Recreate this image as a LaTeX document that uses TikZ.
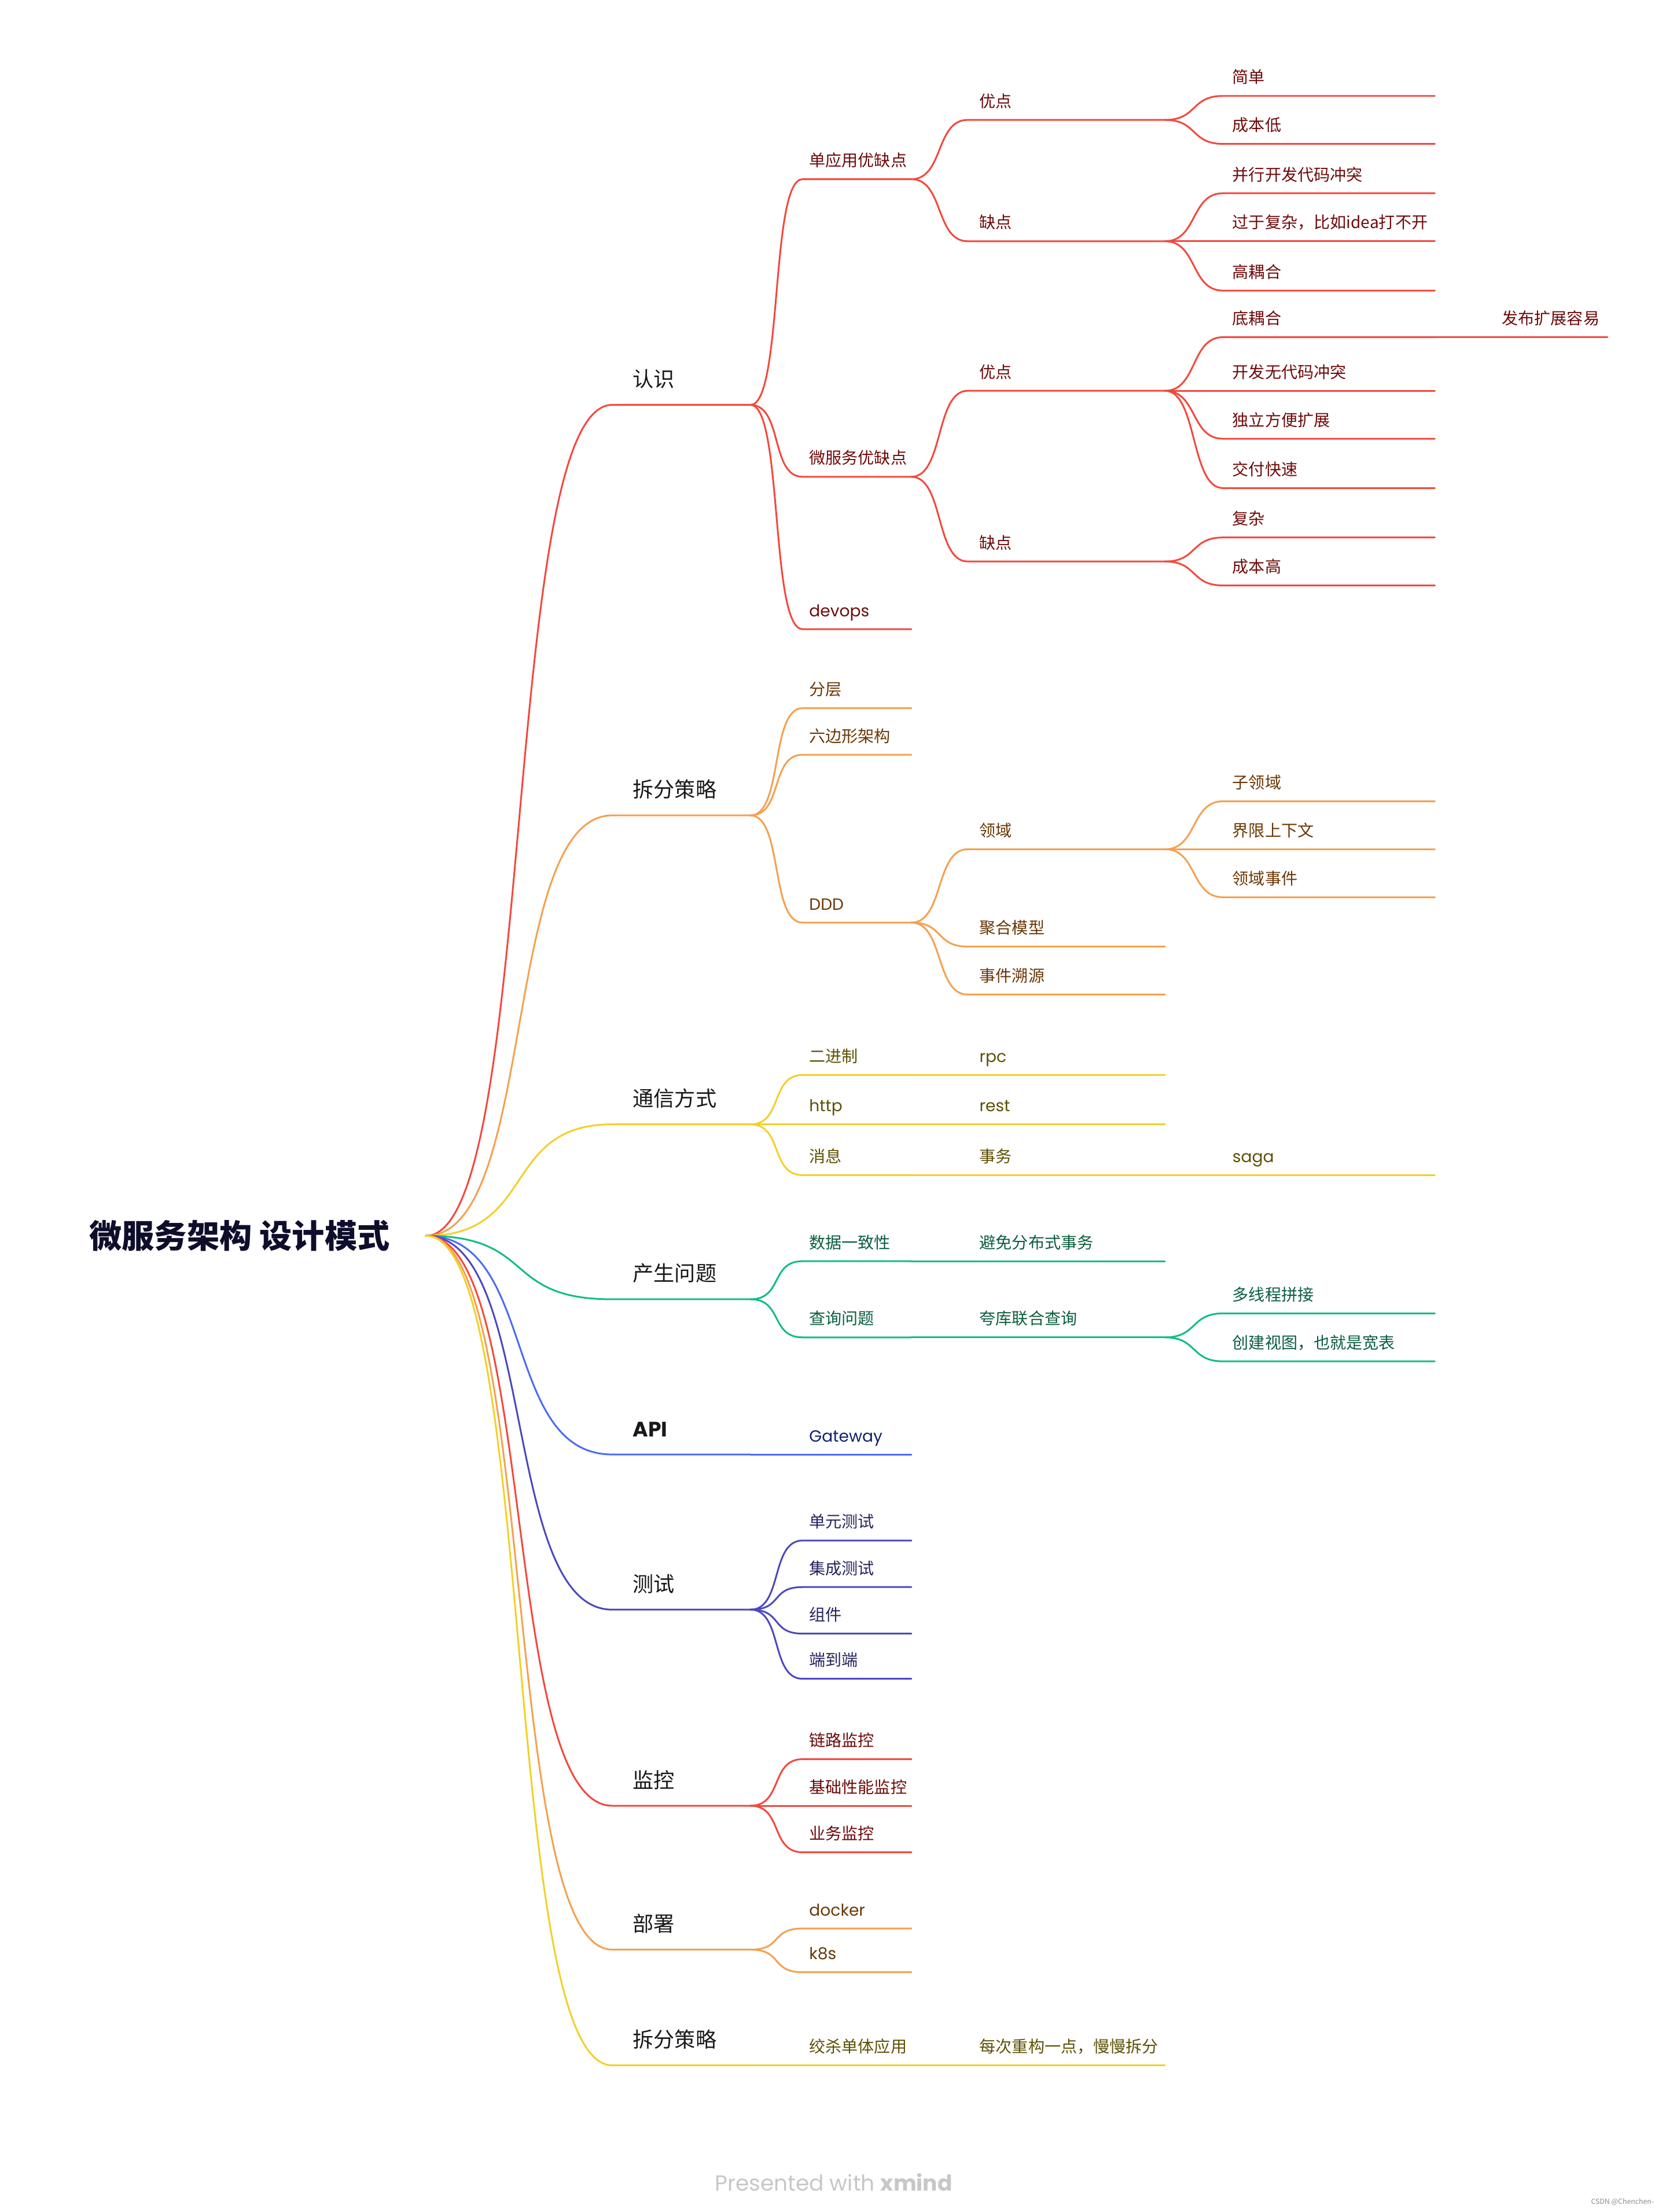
\documentclass[tikz,border=0pt]{standalone}
\usepackage{fontspec}
\setmainfont{Noto Sans CJK SC}
\newfontfamily\poppins{Poppins}

\definecolor{lnRed}{HTML}{F4473D}
\definecolor{lnOrange}{HTML}{F5A04F}
\definecolor{lnYellow}{HTML}{F2D027}
\definecolor{lnGreen}{HTML}{10BE7F}
\definecolor{lnBlue}{HTML}{4A6BF6}
\definecolor{lnIndigo}{HTML}{4B48BF}
\definecolor{txRed}{HTML}{6E0A0A}
\definecolor{txOrange}{HTML}{6A3806}
\definecolor{txYellow}{HTML}{5E5004}
\definecolor{txGreen}{HTML}{0B5E3E}
\definecolor{txBlue}{HTML}{10226E}
\definecolor{txIndigo}{HTML}{26245F}
\definecolor{txRoot}{HTML}{0E0E2C}

\tikzset{
  link/.style={to path={.. controls +(#1,0) and +(-#1,0) .. (\tikztotarget)}},
  link/.default=23,
  topic/.style={anchor=south west, align=left, text depth=0pt, inner ysep=5.8pt,
    font=\fontsize{8}{10}\selectfont},
  lv1/.style={topic, inner xsep=0.34cm, inner ysep=8.4pt, text width=1.68cm,
    text=black!90, font=\fontsize{10.3}{12}\selectfont},
  lv2/.style={topic, inner xsep=0.1cm, text width=1.65cm},
  lv3/.style={topic, inner xsep=0.19cm, text width=3.0cm},
  lv4/.style={topic, inner xsep=0.15cm, text width=3.33cm},
  lv5/.style={topic, inner xsep=0.15cm, text width=1.66cm},
  root/.style={anchor=east, inner xsep=0.61cm, text=txRoot,
    font=\fontsize{16}{19}\selectfont\bfseries},
}

\begin{document}
\begin{tikzpicture}[x=0.02437cm, y=-0.02437cm, line width=0.85pt, line cap=round]
\fill[white] (0,0) rectangle (1181,1568);
\useasboundingbox (0,0) rectangle (1181,1568);

\node[root] (root) at (302,876) {微服务架构 设计模式};

% 认识
\begin{scope}[color=lnRed, every node/.append style={text=txRed}]
\node[lv1] (rz) at (434,287) {认识};
\node[lv2] (dyy) at (569,127) {单应用优缺点};
\node[lv3] (dyyY) at (686,85) {优点};
\node[lv4] (jd) at (867,68) {简单};
\node[lv4] (cbd) at (867,102) {成本低};
\node[lv3] (dyyQ) at (686,171) {缺点};
\node[lv4] (bx) at (867,137) {并行开发代码冲突};
\node[lv4] (gfz) at (867,171) {过于复杂，比如idea打不开};
\node[lv4] (gou) at (867,206) {高耦合};
\node[lv2] (wfw) at (569,338) {微服务优缺点};
\node[lv3] (wfwY) at (686,277) {优点};
\node[lv4] (dou) at (867,239) {底耦合};
\node[lv5] (fb) at (1058,239) {发布扩展容易};
\node[lv4] (kf) at (867,277) {开发无代码冲突};
\node[lv4] (dl) at (867,311) {独立方便扩展};
\node[lv4] (jf) at (867,346) {交付快速};
\node[lv3] (wfwQ) at (686,398) {缺点};
\node[lv4] (fz) at (867,381) {复杂};
\node[lv4] (cbg) at (867,415) {成本高};
\node[lv2] (dev) at (569,446) {\poppins devops};
\draw (root.east) to[link=79] (rz.south west) -- (rz.south east);
\draw (rz.south east) to[link] (dyy.south west) -- (dyy.south east);
\draw (dyy.south east) to[link] (dyyY.south west) -- (dyyY.south east);
\draw (dyyY.south east) to[link] (jd.south west) -- (jd.south east);
\draw (dyyY.south east) to[link] (cbd.south west) -- (cbd.south east);
\draw (dyy.south east) to[link] (dyyQ.south west) -- (dyyQ.south east);
\draw (dyyQ.south east) to[link] (bx.south west) -- (bx.south east);
\draw (dyyQ.south east) -- (gfz.south west) -- (gfz.south east);
\draw (dyyQ.south east) to[link] (gou.south west) -- (gou.south east);
\draw (rz.south east) to[link] (wfw.south west) -- (wfw.south east);
\draw (wfw.south east) to[link] (wfwY.south west) -- (wfwY.south east);
\draw (wfwY.south east) to[link] (dou.south west) -- (dou.south east);
\draw (dou.south east) -- (fb.south west) -- (fb.south east);
\draw (wfwY.south east) -- (kf.south west) -- (kf.south east);
\draw (wfwY.south east) to[link] (dl.south west) -- (dl.south east);
\draw (wfwY.south east) to[link] (jf.south west) -- (jf.south east);
\draw (wfw.south east) to[link] (wfwQ.south west) -- (wfwQ.south east);
\draw (wfwQ.south east) to[link] (fz.south west) -- (fz.south east);
\draw (wfwQ.south east) to[link] (cbg.south west) -- (cbg.south east);
\draw (rz.south east) to[link] (dev.south west) -- (dev.south east);
\end{scope}

% 拆分策略
\begin{scope}[color=lnOrange, every node/.append style={text=txOrange}]
\node[lv1] (cf) at (434,578) {拆分策略};
\node[lv2] (fc) at (569,502) {分层};
\node[lv2] (lbx) at (569,535) {六边形架构};
\node[lv2] (ddd) at (569,654) {\poppins DDD};
\node[lv3] (ly) at (686,602) {领域};
\node[lv4] (zly) at (867,568) {子领域};
\node[lv4] (jx) at (867,602) {界限上下文};
\node[lv4] (lysj) at (867,636) {领域事件};
\node[lv3] (jh) at (686,671) {聚合模型};
\node[lv3] (sy) at (686,705) {事件溯源};
\draw (root.east) to[link=79] (cf.south west) -- (cf.south east);
\draw (cf.south east) to[link] (fc.south west) -- (fc.south east);
\draw (cf.south east) to[link] (lbx.south west) -- (lbx.south east);
\draw (cf.south east) to[link] (ddd.south west) -- (ddd.south east);
\draw (ddd.south east) to[link] (ly.south west) -- (ly.south east);
\draw (ly.south east) to[link] (zly.south west) -- (zly.south east);
\draw (ly.south east) -- (jx.south west) -- (jx.south east);
\draw (ly.south east) to[link] (lysj.south west) -- (lysj.south east);
\draw (ddd.south east) to[link] (jh.south west) -- (jh.south east);
\draw (ddd.south east) to[link] (sy.south west) -- (sy.south east);
\end{scope}

% 通信方式
\begin{scope}[color=lnYellow, every node/.append style={text=txYellow}]
\node[lv1] (tx) at (434,797) {通信方式};
\node[lv2] (ejz) at (569,762) {二进制};
\node[lv3] (rpc) at (686,762) {\poppins rpc};
\node[lv2] (http) at (569,797) {\poppins http};
\node[lv3] (rest) at (686,797) {\poppins rest};
\node[lv2] (xx) at (569,833) {消息};
\node[lv3] (sw) at (686,833) {事务};
\node[lv4] (saga) at (867,833) {\poppins saga};
\draw (root.east) to[link=79] (tx.south west) -- (tx.south east);
\draw (tx.south east) to[link] (ejz.south west) -- (ejz.south east);
\draw (ejz.south east) -- (rpc.south west) -- (rpc.south east);
\draw (tx.south east) -- (http.south west) -- (http.south east);
\draw (http.south east) -- (rest.south west) -- (rest.south east);
\draw (tx.south east) to[link] (xx.south west) -- (xx.south east);
\draw (xx.south east) -- (sw.south west) -- (sw.south east);
\draw (sw.south east) -- (saga.south west) -- (saga.south east);
\end{scope}

% 产生问题
\begin{scope}[color=lnGreen, every node/.append style={text=txGreen}]
\node[lv1] (wt) at (434,921) {产生问题};
\node[lv2] (yz) at (569,894) {数据一致性};
\node[lv3] (bm) at (686,894) {避免分布式事务};
\node[lv2] (cx) at (569,948) {查询问题};
\node[lv3] (kk) at (686,948) {夸库联合查询};
\node[lv4] (dxc) at (867,931) {多线程拼接};
\node[lv4] (kb) at (867,965) {创建视图，也就是宽表};
\draw (root.east) to[link=79] (wt.south west) -- (wt.south east);
\draw (wt.south east) to[link] (yz.south west) -- (yz.south east);
\draw (yz.south east) -- (bm.south west) -- (bm.south east);
\draw (wt.south east) to[link] (cx.south west) -- (cx.south east);
\draw (cx.south east) -- (kk.south west) -- (kk.south east);
\draw (kk.south east) to[link] (dxc.south west) -- (dxc.south east);
\draw (kk.south east) to[link] (kb.south west) -- (kb.south east);
\end{scope}

% API
\begin{scope}[color=lnBlue, every node/.append style={text=txBlue}]
\node[lv1] (api) at (434,1031) {\poppins\bfseries API};
\node[lv2] (gw) at (569,1031) {\poppins Gateway};
\draw (root.east) to[link=79] (api.south west) -- (api.south east);
\draw (api.south east) -- (gw.south west) -- (gw.south east);
\end{scope}

% 测试
\begin{scope}[color=lnIndigo, every node/.append style={text=txIndigo}]
\node[lv1] (cs) at (434,1141) {测试};
\node[lv2] (dycs) at (569,1092) {单元测试};
\node[lv2] (jccs) at (569,1125) {集成测试};
\node[lv2] (zj) at (569,1158) {组件};
\node[lv2] (dtd) at (569,1190) {端到端};
\draw (root.east) to[link=79] (cs.south west) -- (cs.south east);
\draw (cs.south east) to[link] (dycs.south west) -- (dycs.south east);
\draw (cs.south east) to[link] (jccs.south west) -- (jccs.south east);
\draw (cs.south east) to[link] (zj.south west) -- (zj.south east);
\draw (cs.south east) to[link] (dtd.south west) -- (dtd.south east);
\end{scope}

% 监控
\begin{scope}[color=lnRed, every node/.append style={text=txRed}]
\node[lv1] (jk) at (434,1280) {监控};
\node[lv2] (ll) at (569,1247) {链路监控};
\node[lv2] (jcxn) at (569,1280) {基础性能监控};
\node[lv2] (yw) at (569,1313) {业务监控};
\draw (root.east) to[link=79] (jk.south west) -- (jk.south east);
\draw (jk.south east) to[link] (ll.south west) -- (ll.south east);
\draw (jk.south east) -- (jcxn.south west) -- (jcxn.south east);
\draw (jk.south east) to[link] (yw.south west) -- (yw.south east);
\end{scope}

% 部署
\begin{scope}[color=lnOrange, every node/.append style={text=txOrange}]
\node[lv1] (bs) at (434,1382) {部署};
\node[lv2] (dk) at (569,1367) {\poppins docker};
\node[lv2] (k8s) at (569,1398) {\poppins k8s};
\draw (root.east) to[link=79] (bs.south west) -- (bs.south east);
\draw (bs.south east) to[link] (dk.south west) -- (dk.south east);
\draw (bs.south east) to[link] (k8s.south west) -- (k8s.south east);
\end{scope}

% 拆分策略
\begin{scope}[color=lnYellow, every node/.append style={text=txYellow}]
\node[lv1] (cf2) at (434,1464) {拆分策略};
\node[lv2] (js) at (569,1464) {绞杀单体应用};
\node[lv3] (mc) at (686,1464) {每次重构一点，慢慢拆分};
\draw (root.east) to[link=79] (cf2.south west) -- (cf2.south east);
\draw (cf2.south east) -- (js.south west) -- (js.south east);
\draw (js.south east) -- (mc.south west) -- (mc.south east);
\end{scope}

\node[text=black!22, font=\poppins\fontsize{10.7}{13}\selectfont] (xm) at (591,1547) {Presented with \textbf{xmind}};
\node[anchor=east, text=black!45, font=\fontsize{3.5}{4}\selectfont] (csdn) at (1178,1561) {CSDN @Chenchen-};
\end{tikzpicture}
\end{document}
